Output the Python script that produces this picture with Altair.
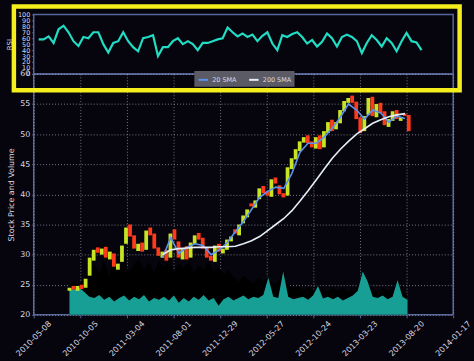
import altair as alt
import pandas as pd

# ---------------- data ----------------
rsi_start = "2010-05-24"
rsi_vals = [58, 58, 63, 52, 75, 81, 70, 55, 47, 62, 60, 70, 70, 50, 36, 52, 55, 70, 55, 45,
            38, 60, 62, 65, 30, 45, 45, 55, 60, 50, 55, 50, 40, 52, 52, 55, 58, 60, 78, 70,
            63, 68, 62, 66, 55, 64, 70, 51, 40, 65, 62, 67, 70, 62, 51, 57, 46, 54, 68, 60,
            46, 62, 66, 62, 55, 35, 52, 65, 57, 46, 60, 52, 38, 55, 69, 55, 53, 40]

price_start = "2010-08-31"
close_vals = [24.5, 24.2, 24.8, 24.3, 26.0, 29.5, 30.8, 30.3, 31.0, 29.5,
              30.5, 28.0, 28.5, 31.5, 34.5, 33.0, 31.0, 31.8, 30.5, 34.0,
              33.2, 31.0, 29.8, 30.5, 29.0, 33.5, 32.5, 29.5, 31.0, 29.2,
              32.0, 33.2, 32.5, 31.0, 29.5, 29.0, 31.5, 30.5, 31.0, 32.5,
              33.0, 33.5, 35.0, 36.5, 37.5, 38.0, 39.0, 41.0, 40.2, 39.8,
              42.5, 41.8, 40.0, 39.5, 44.5, 46.0, 47.5, 48.8, 49.5, 48.5,
              47.8, 49.5, 47.5, 50.5, 52.0, 50.5, 52.0, 54.0, 55.5, 56.0,
              55.2, 52.5, 50.2, 53.0, 56.0, 53.0, 55.0, 53.5, 51.5, 52.5,
              53.8, 52.5, 52.8, 53.0, 50.5]
open_vals = [24.0, 24.8, 24.0, 25.0, 24.5, 26.5, 29.0, 31.2, 30.0, 31.3,
             29.2, 30.2, 27.5, 28.8, 31.8, 35.0, 33.2, 30.6, 32.0, 30.8,
             34.5, 33.5, 31.2, 29.5, 30.8, 29.5, 34.2, 32.2, 29.2, 31.4,
             29.5, 31.8, 33.6, 32.8, 31.2, 29.8, 28.8, 31.8, 30.2, 30.8,
             32.2, 34.2, 33.2, 35.2, 36.2, 38.5, 37.8, 39.2, 41.4, 40.5,
             39.6, 42.8, 41.5, 40.2, 39.8, 44.2, 45.8, 47.2, 48.6, 49.8,
             48.8, 47.6, 49.8, 47.8, 50.2, 52.4, 50.8, 51.8, 53.8, 55.2,
             56.4, 55.4, 52.8, 50.5, 53.2, 56.2, 52.8, 55.2, 53.8, 51.2,
             52.2, 54.0, 52.2, 53.4, 53.2]

sma_start = "2011-06-27"
sma20_vals = [29.5, 32.8, 30.2, 31.2, 31.8, 31.5, 30.0, 30.8, 32.0, 33.8,
              35.5, 37.5, 39.5, 40.5, 41.2, 41.0, 43.5, 47.0, 48.5, 48.5,
              49.5, 51.0, 52.8, 55.0, 54.0, 52.5, 54.0, 53.5, 52.0, 53.0, 52.6]
sma200_vals = [30.0, 30.8, 31.0, 31.1, 31.2, 31.2, 31.2, 31.3, 31.3, 31.4,
               31.8, 32.3, 33.0, 34.0, 35.0, 36.0, 37.3, 38.9, 40.6, 42.4,
               44.2, 46.0, 47.5, 48.8, 50.0, 50.9, 51.8, 52.4, 52.9, 53.2, 53.4]

vol_start = "2010-08-31"
vol_base = [45, 42, 45, 38, 30, 28, 33, 25, 30, 22, 28, 32, 24, 30, 26, 33, 22, 28, 25, 30,
            24, 32, 20, 28, 22, 30, 25, 33, 24, 28, 15, 26, 30, 24, 28, 32, 26, 30, 28, 33,
            62, 30, 28, 72, 30, 26, 28, 30, 25, 32, 48, 27, 30, 26, 30, 24, 28, 32, 40, 72,
            55, 30, 28, 32, 26, 30, 58, 30, 25]
vol_peak = [50, 55, 52, 60, 75, 85, 70, 88, 65, 90, 80, 95, 70, 85, 92, 75, 88, 70, 90, 80,
            95, 72, 85, 78, 90, 70, 82, 75, 88, 72, 80, 68, 75, 62, 55, 65, 58, 52, 62, 55,
            64, 50, 55, 74, 50, 45, 48, 42, 45, 40, 50, 42, 38, 44, 40, 45, 38, 42, 48, 74,
            58, 42, 38, 45, 40, 42, 60, 38, 32]

tick_dates = ["2010-05-08", "2010-10-05", "2011-03-04", "2011-08-01", "2011-12-29",
              "2012-05-27", "2012-10-24", "2013-03-23", "2013-08-20", "2014-01-17"]
series_names = ["20 SMA", "200 SMA"]

# ---------------- tables ----------------
def dates(start, n, step):
    return pd.date_range(start, periods=n, freq=step).strftime("%Y-%m-%d")

rsi_df = pd.DataFrame({"date": dates(rsi_start, len(rsi_vals), "16D"), "rsi": rsi_vals})
price_df = pd.DataFrame({"date": dates(price_start, len(close_vals), "13D"),
                         "open": open_vals, "close": close_vals})
sd = dates(sma_start, len(sma20_vals), "26D")
sma_df = pd.concat([
    pd.DataFrame({"date": sd, "value": sma20_vals, "series": series_names[0]}),
    pd.DataFrame({"date": sd, "value": sma200_vals, "series": series_names[1]}),
])
vol_df = pd.DataFrame({"date": dates(vol_start, len(vol_base), "16D"),
                       "base": vol_base, "peak": vol_peak})

# ---------------- style ----------------
BG = "#06050d"
SPINE = "#56679c"
TXT = "#d8d8e2"
GRID = "#a8a8b8"
RSI_C = "#22dcc4"
VOL_C = "#179f96"
UP = "#c6e424"
DOWN = "#ff3a1c"
SMA20_C = "#5b92ee"
SMA200_C = "#e6eef8"
YELLOW = "#f4ee1c"
FONT = "DejaVu Sans"

def ms(s):
    return int(pd.Timestamp(s, tz="UTC").value // 10**6)

tick_ms = [ms(t) for t in tick_dates]
xscale = alt.Scale(type="utc", domain=[tick_ms[0], tick_ms[-1]])
W = 423
H_RSI = 60
H_MAIN = 243
P_MIN, P_MAX = 20, 60
VOL_MAX = 400  # volume twin axis spans the whole price range

# ---------------- RSI panel ----------------
rsi = alt.Chart(rsi_df).mark_line(color=RSI_C, strokeWidth=2.2).encode(
    x=alt.X("date:T", scale=xscale, axis=None),
    y=alt.Y("rsi:Q", scale=alt.Scale(domain=[0, 100], nice=False),
            axis=alt.Axis(values=list(range(0, 101, 10)), labelFontSize=6.5, labelOverlap=False,
                          grid=False, title="RSI", titleFontSize=7, titlePadding=5,
                          tickSize=2, domain=False)),
).properties(width=W, height=H_RSI)

# ---------------- main panel ----------------
xax = alt.Axis(values=tick_ms, labelExpr="utcFormat(datum.value, '%Y-%m-%d')",
               labelAngle=-45, labelAlign="center", labelBaseline="middle", labelFontSize=8,
               labelFlush=False, labelOverlap=False, labelPadding=21, grid=True,
               gridDash=[1, 2], gridColor=GRID, gridOpacity=0.7, title=None,
               domain=False, tickSize=3)
yax = alt.Axis(values=list(range(20, 61, 5)), title="Stock Price and Volume",
               titleFontSize=8, labelFontSize=8, grid=True, gridDash=[1, 2],
               gridColor=GRID, gridOpacity=0.7, domain=False, tickSize=2, titlePadding=4)
X = alt.X("date:T", scale=xscale, axis=xax)
pscale = alt.Scale(domain=[P_MIN, P_MAX], nice=False, zero=False)

vol_expr = f"{P_MIN} + datum.{{}} * {(P_MAX - P_MIN) / VOL_MAX}"
vol_black = alt.Chart(vol_df).transform_calculate(
    vy=vol_expr.format("peak")
).mark_area(color="#000000", interpolate="linear").encode(
    x=X, y=alt.Y("vy:Q", scale=pscale, axis=yax), y2=alt.datum(P_MIN),
)
vol_teal = alt.Chart(vol_df).transform_calculate(
    vy=vol_expr.format("base")
).mark_area(color=VOL_C, interpolate="linear").encode(
    x=X, y=alt.Y("vy:Q", scale=pscale, axis=yax), y2=alt.datum(P_MIN),
)
candles = alt.Chart(price_df).mark_rule(strokeWidth=3.8).encode(
    x=X,
    y=alt.Y("open:Q", scale=pscale, axis=yax),
    y2="close:Q",
    color=alt.when("datum.close >= datum.open").then(alt.value(UP)).otherwise(alt.value(DOWN)),
)
smas = alt.Chart(sma_df).mark_line(strokeWidth=1.6).encode(
    x=X,
    y=alt.Y("value:Q", scale=pscale, axis=yax),
    color=alt.Color("series:N", scale=alt.Scale(domain=series_names, range=[SMA20_C, SMA200_C]),
                    legend=alt.Legend(orient="none", legendX=162, legendY=H_RSI - 3,
                                      direction="horizontal", title=None, fillColor="#5b5b66",
                                      padding=3, labelFontSize=6.5, labelColor=TXT,
                                      symbolType="stroke", symbolStrokeWidth=2, symbolSize=90,
                                      columnPadding=8, labelOffset=3)),
)
box = alt.Chart(pd.DataFrame({"k": [0]})).mark_rect(filled=False, stroke=YELLOW, strokeWidth=4.5).encode(
    x=alt.value(-20), x2=alt.value(429.5), y=alt.value(-68), y2=alt.value(16.5)
)

main = alt.layer(vol_black, vol_teal, candles, smas, box).properties(width=W, height=H_MAIN)

chart = alt.vconcat(rsi, main, spacing=0, bounds="flush").configure(
    background=BG, padding={"left": 4, "top": 2, "right": 0, "bottom": 0}
).configure_view(stroke=SPINE, strokeWidth=1.5).configure_axis(
    labelColor=TXT, titleColor=TXT, tickColor=SPINE, labelFont=FONT, titleFont=FONT,
    titleFontWeight="normal"
).configure_legend(labelFont=FONT)

chart.save("out.html", embed_options={"renderer": "svg", "actions": False})
